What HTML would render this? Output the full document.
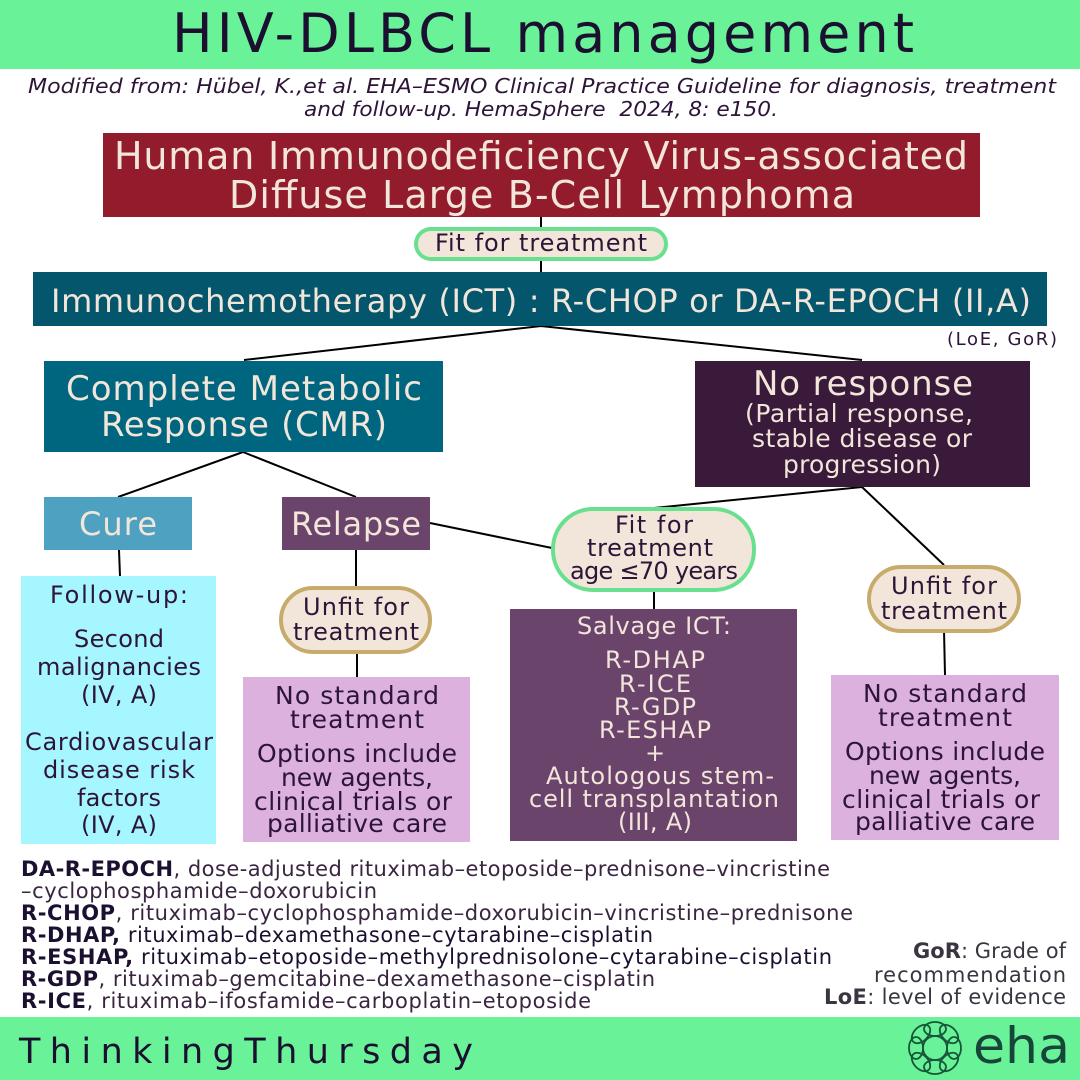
<!DOCTYPE html>
<html><head><meta charset="utf-8"><style>
html,body{margin:0;padding:0;background:#fff;width:1080px;height:1080px;overflow:hidden}
svg{display:block}
text{font-family:"DejaVu Sans","Liberation Sans",sans-serif}
.c{text-anchor:middle}
.b{font-weight:bold}
</style></head><body>
<svg width="1080" height="1080" viewBox="0 0 1080 1080" xmlns="http://www.w3.org/2000/svg">
<rect width="1080" height="1080" fill="#fff"/>
<rect width="1080" height="69" fill="#69f298"/>
<rect y="1017" width="1080" height="63" fill="#69f298"/>
<text x="172" y="52" font-size="54" fill="#1c1030" textLength="742" lengthAdjust="spacing">HIV-DLBCL management</text>
<g font-size="20" font-style="italic" fill="#2d1538">
<text x="28" y="93" textLength="1028" lengthAdjust="spacingAndGlyphs">Modified from: Hübel, K.,et al. EHA–ESMO Clinical Practice Guideline for diagnosis, treatment</text>
<text x="304" y="116" textLength="474" lengthAdjust="spacingAndGlyphs" xml:space="preserve">and follow-up. HemaSphere  2024, 8: e150.</text>
</g>
<g stroke="#000" stroke-width="2" fill="none">
<path d="M541 216V272M244 360L541 326L862 360M243 452L118 497M243 452L356 497M119 550L120 576"/>
<path d="M356 550V588M357 652V677M430 523L552 548M654 508L862 487M862 487L944 565M654 590V610M944 630L945 675"/>
</g>
<rect x="103" y="133" width="877" height="84" fill="#921c2b"/>
<g font-size="38" fill="#f2e6da" class="c">
<text x="541" y="169" textLength="854" lengthAdjust="spacing">Human Immunodeficiency Virus-associated</text>
<text x="542" y="208" textLength="626" lengthAdjust="spacing">Diffuse Large B-Cell Lymphoma</text>
</g>
<rect x="416" y="229" width="250" height="30" rx="15" fill="#f2e6da" stroke="#69e08f" stroke-width="4"/>
<text x="541" y="251" class="c" font-size="24" fill="#2d1538" textLength="212" lengthAdjust="spacing">Fit for treatment</text>
<rect x="33" y="272" width="1014" height="54" fill="#03566b"/>
<text x="541" y="312" class="c" font-size="32" fill="#f2e6da" textLength="980" lengthAdjust="spacing">Immunochemotherapy (ICT) : R-CHOP or DA-R-EPOCH (II,A)</text>
<text x="1057" y="345" text-anchor="end" font-size="18" fill="#2d1538" textLength="110" lengthAdjust="spacing">(LoE, GoR)</text>

<rect x="44" y="361" width="399" height="91" fill="#00667f"/>
<g font-size="34" fill="#f2e6da" class="c">
<text x="244" y="400" textLength="356" lengthAdjust="spacing">Complete Metabolic</text>
<text x="244" y="436" textLength="286" lengthAdjust="spacing">Response (CMR)</text>
</g>
<rect x="695" y="361" width="335" height="126" fill="#3a1a3a"/>
<text x="863" y="395" class="c" font-size="34" fill="#f2e6da" textLength="220" lengthAdjust="spacing">No response</text>
<g font-size="25" fill="#f2e6da" class="c">
<text x="859" y="422" textLength="228" lengthAdjust="spacing">(Partial response,</text>
<text x="862" y="447" textLength="220" lengthAdjust="spacing">stable disease or</text>
<text x="862" y="473" textLength="158" lengthAdjust="spacing">progression)</text>
</g>

<rect x="44" y="497" width="148" height="53" fill="#4fa1c1"/>
<text x="118" y="535" class="c" font-size="32" fill="#f2e6da" textLength="78" lengthAdjust="spacing">Cure</text>
<rect x="282" y="497" width="148" height="53" fill="#6b446c"/>
<text x="356" y="535" class="c" font-size="32" fill="#f2e6da" textLength="130" lengthAdjust="spacing">Relapse</text>

<rect x="553" y="509" width="201" height="81" rx="40" fill="#f2e6da" stroke="#69e08f" stroke-width="4"/>
<g font-size="24" fill="#2d1538" class="c">
<text x="654" y="533" textLength="78" lengthAdjust="spacing">Fit for</text>
<text x="650" y="556" textLength="126" lengthAdjust="spacing">treatment</text>
<text x="654" y="579" textLength="168" lengthAdjust="spacing">age ≤70 years</text>
</g>
<rect x="281" y="588" width="149" height="64" rx="32" fill="#f2e6da" stroke="#c7ab6a" stroke-width="4"/>
<g font-size="24" fill="#2d1538" class="c">
<text x="356" y="615" textLength="106" lengthAdjust="spacing">Unfit for</text>
<text x="356" y="640" textLength="126" lengthAdjust="spacing">treatment</text>
</g>
<rect x="869" y="567" width="150" height="64" rx="32" fill="#f2e6da" stroke="#c7ab6a" stroke-width="4"/>
<g font-size="24" fill="#2d1538" class="c">
<text x="944" y="594" textLength="106" lengthAdjust="spacing">Unfit for</text>
<text x="944" y="619" textLength="126" lengthAdjust="spacing">treatment</text>
</g>

<rect x="21" y="576" width="195" height="268" fill="#a6f6ff"/>
<g font-size="24" fill="#2d1538" class="c">
<text x="119" y="603" textLength="138" lengthAdjust="spacing">Follow-up:</text>
<text x="119" y="647" textLength="90" lengthAdjust="spacing">Second</text>
<text x="119" y="675" textLength="164" lengthAdjust="spacing">malignancies</text>
<text x="119" y="703" textLength="76" lengthAdjust="spacing">(IV, A)</text>
<text x="119" y="750" textLength="188" lengthAdjust="spacing">Cardiovascular</text>
<text x="119" y="778" textLength="152" lengthAdjust="spacing">disease risk</text>
<text x="119" y="806" textLength="84" lengthAdjust="spacing">factors</text>
<text x="119" y="833" textLength="76" lengthAdjust="spacing">(IV, A)</text>
</g>

<rect x="243" y="677" width="227" height="165" fill="#dcb1de"/>
<g font-size="25" fill="#2d1538" class="c">
<text x="357" y="704" textLength="164" lengthAdjust="spacing">No standard</text>
<text x="357" y="728" textLength="134" lengthAdjust="spacing">treatment</text>
<text x="357" y="762" textLength="200" lengthAdjust="spacing">Options include</text>
<text x="357" y="786" textLength="152" lengthAdjust="spacing">new agents,</text>
<text x="353" y="810" textLength="198" lengthAdjust="spacing">clinical trials or</text>
<text x="357" y="832" textLength="180" lengthAdjust="spacing">palliative care</text>
</g>
<rect x="831" y="675" width="228" height="165" fill="#dcb1de"/>
<g font-size="25" fill="#2d1538" class="c">
<text x="945" y="702" textLength="164" lengthAdjust="spacing">No standard</text>
<text x="945" y="726" textLength="134" lengthAdjust="spacing">treatment</text>
<text x="945" y="760" textLength="200" lengthAdjust="spacing">Options include</text>
<text x="945" y="784" textLength="152" lengthAdjust="spacing">new agents,</text>
<text x="941" y="808" textLength="198" lengthAdjust="spacing">clinical trials or</text>
<text x="945" y="830" textLength="180" lengthAdjust="spacing">palliative care</text>
</g>

<rect x="510" y="609" width="287" height="232" fill="#6b446c"/>
<g font-size="24" fill="#f2e6da" class="c">
<text x="654" y="634" textLength="154" lengthAdjust="spacing">Salvage ICT:</text>
<text x="655" y="668" textLength="100" lengthAdjust="spacing">R-DHAP</text>
<text x="655" y="692" textLength="72" lengthAdjust="spacing">R-ICE</text>
<text x="655" y="715" textLength="82" lengthAdjust="spacing">R-GDP</text>
<text x="655" y="738" textLength="112" lengthAdjust="spacing">R-ESHAP</text>
<text x="655" y="761">+</text>
<text x="660" y="784" textLength="228" lengthAdjust="spacing">Autologous stem-</text>
<text x="654" y="807" textLength="250" lengthAdjust="spacing">cell transplantation</text>
<text x="655" y="830" textLength="74" lengthAdjust="spacing">(III, A)</text>
</g>

<g font-size="21" fill="#3a2540">
<text x="21" y="876" textLength="809" lengthAdjust="spacing"><tspan class="b" fill="#1c1030">DA-R-EPOCH</tspan>, dose-adjusted rituximab–etoposide–prednisone–vincristine</text>
<text x="21" y="898" textLength="356" lengthAdjust="spacing">–cyclophosphamide–doxorubicin</text>
<text x="21" y="920" textLength="832" lengthAdjust="spacing"><tspan class="b" fill="#1c1030">R-CHOP</tspan>, rituximab–cyclophosphamide–doxorubicin–vincristine–prednisone</text>
<text x="21" y="942" textLength="632" lengthAdjust="spacing" fill="#1c1030"><tspan class="b">R-DHAP,</tspan> rituximab–dexamethasone–cytarabine–cisplatin</text>
<text x="21" y="964" textLength="811" lengthAdjust="spacing" fill="#1c1030"><tspan class="b">R-ESHAP,</tspan> rituximab–etoposide–methylprednisolone–cytarabine–cisplatin</text>
<text x="21" y="986" textLength="634" lengthAdjust="spacing"><tspan class="b" fill="#1c1030">R-GDP</tspan>, rituximab–gemcitabine–dexamethasone–cisplatin</text>
<text x="21" y="1008" textLength="570" lengthAdjust="spacing"><tspan class="b" fill="#1c1030">R-ICE</tspan>, rituximab–ifosfamide–carboplatin–etoposide</text>
</g>
<g font-size="21" fill="#3a3540" text-anchor="end">
<text x="1066" y="958" textLength="153" lengthAdjust="spacing"><tspan class="b">GoR</tspan>: Grade of</text>
<text x="1066" y="982" textLength="192" lengthAdjust="spacing">recommendation</text>
<text x="1066" y="1004" textLength="242" lengthAdjust="spacing"><tspan class="b">LoE</tspan>: level of evidence</text>
</g>
<text x="19" y="1063" font-size="35" fill="#1c1030" textLength="454" lengthAdjust="spacing">ThinkingThursday</text>
<g fill="none" stroke="#17563a" stroke-width="1.8">
<ellipse cx="935" cy="1029" rx="11" ry="7"/><ellipse cx="935" cy="1067" rx="11" ry="7"/>
<ellipse cx="916" cy="1048" rx="7" ry="11"/><ellipse cx="954" cy="1048" rx="7" ry="11"/>
<ellipse cx="921" cy="1034" rx="11" ry="7" transform="rotate(-45 921 1034)"/><ellipse cx="949" cy="1034" rx="11" ry="7" transform="rotate(45 949 1034)"/>
<ellipse cx="921" cy="1062" rx="11" ry="7" transform="rotate(45 921 1062)"/><ellipse cx="949" cy="1062" rx="11" ry="7" transform="rotate(-45 949 1062)"/>
<circle cx="935" cy="1048" r="12"/>
</g>
<text x="973" y="1063" font-size="50" fill="#17453a" textLength="97" lengthAdjust="spacingAndGlyphs">eha</text>
</svg>
</body></html>
